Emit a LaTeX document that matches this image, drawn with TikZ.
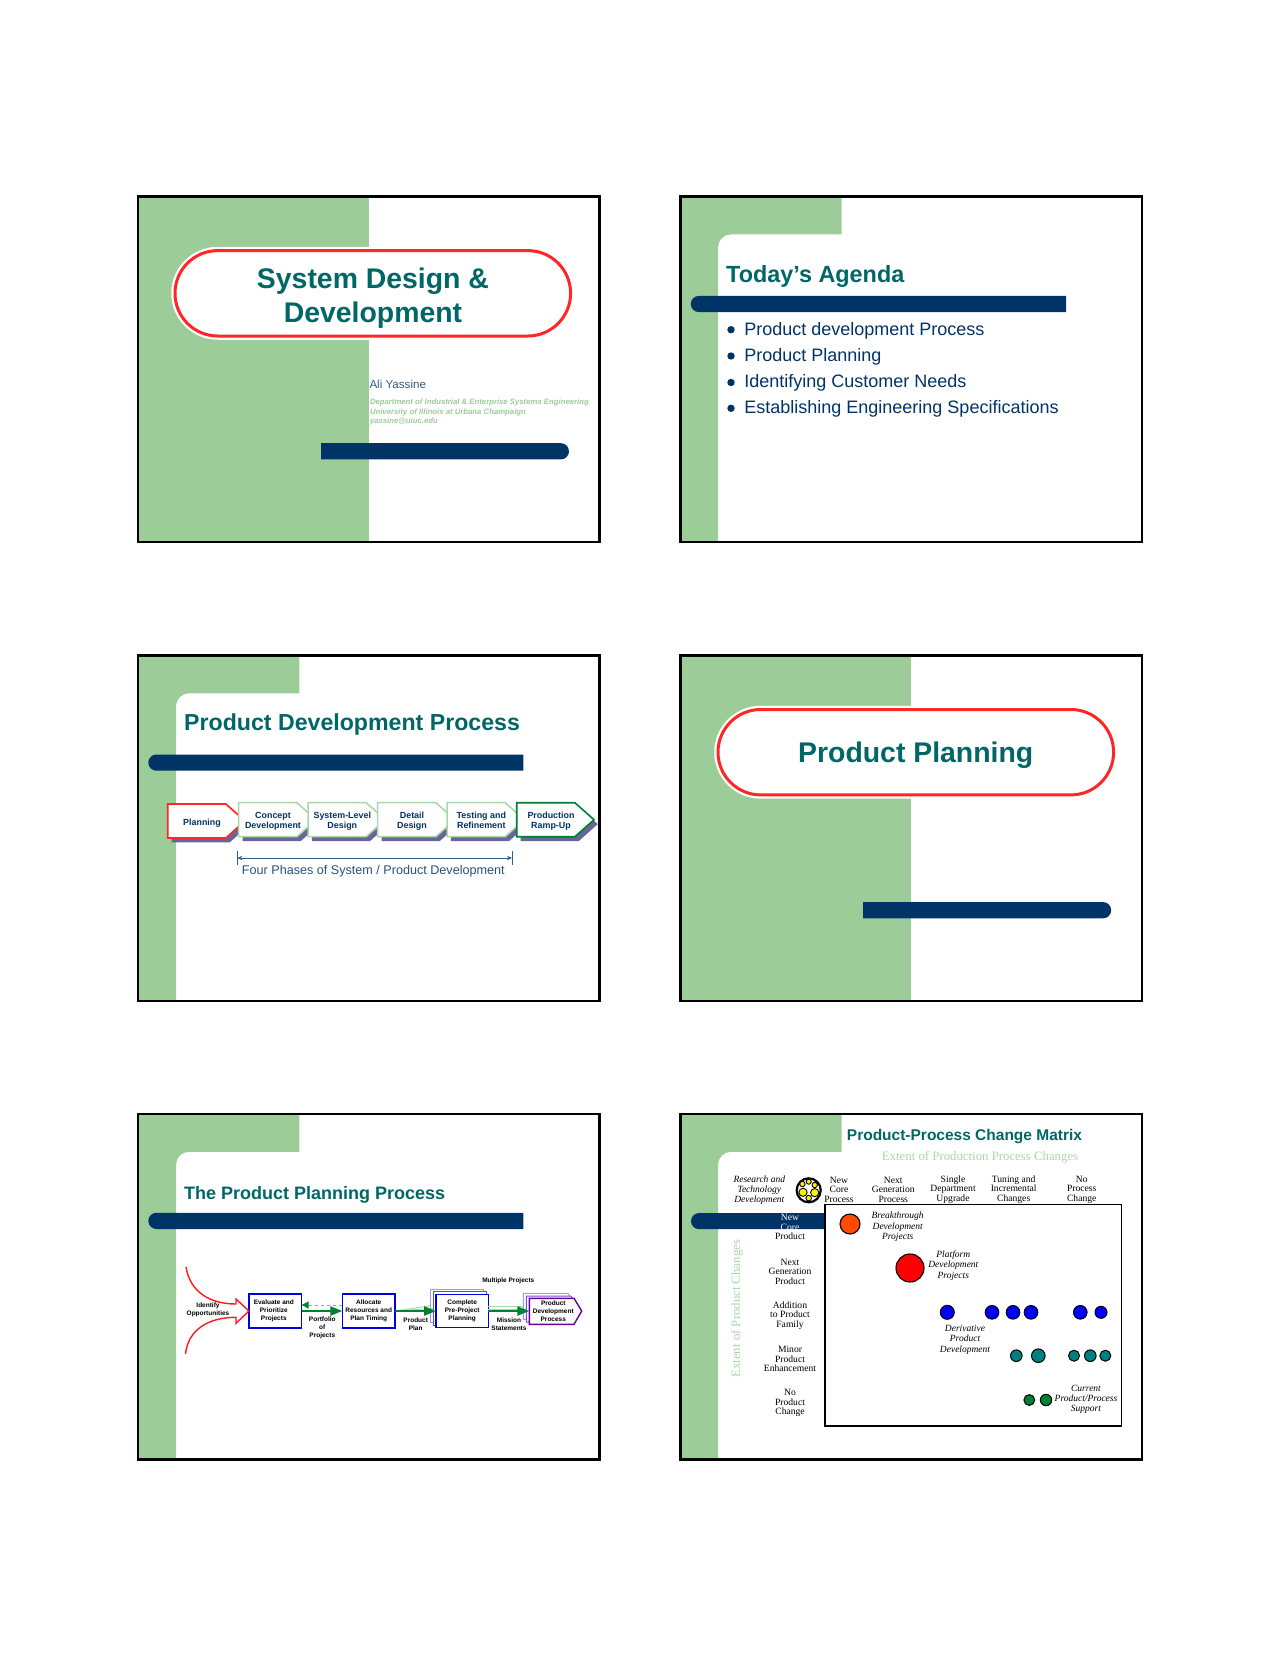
\documentclass[tikz,border=0pt]{standalone}
\usepackage{fontspec}
\setmainfont{Liberation Sans}
\newfontfamily\matrixfont{Liberation Serif}
\usetikzlibrary{arrows.meta,shapes.misc}
\definecolor{panelgreen}{HTML}{9CCC98}
\definecolor{headteal}{HTML}{006666}
\definecolor{navy}{HTML}{003366}
\definecolor{shadowblue}{HTML}{666699}
\definecolor{flowgreen}{HTML}{008033}
\definecolor{palegreen}{HTML}{A8D8A8}
\tikzset{
    slideframe/.style={draw=black,line width=2.5},
    titlepill/.style={rounded rectangle,draw=red!85!white,fill=white,line width=3,minimum width=395.6,minimum height=85.4,outer sep=0,inner sep=0,preaction={draw=white,line width=7.5}},
    navybar/.style={rounded rectangle,fill=navy,minimum height=16.2,outer sep=0,inner sep=0},
    bighead/.style={font=\fontsize{28.4}{34.6}\selectfont\bfseries,text=headteal,align=center,inner sep=0},
    slidehead/.style={font=\fontsize{23.4}{28}\selectfont\bfseries,text=headteal,anchor=base west,inner sep=0},
    agendaitem/.style={font=\fontsize{18}{22}\selectfont,text=navy,anchor=base west,inner sep=0},
    phasetext/.style={font=\fontsize{8.9}{10}\selectfont\bfseries,text=navy,align=center,text depth=0pt,inner sep=0},
    redstage/.style={draw=red!85!white,line width=1.7,fill=white},
    midstage/.style={draw=palegreen,line width=1.5,fill=white},
    endstage/.style={draw=flowgreen,line width=1.6,fill=white},
    flowtext/.style={font=\fontsize{6.5}{8}\selectfont\bfseries,align=center,inner sep=0},
    flowbox/.style={draw=blue!85!black,line width=1.5,fill=white,flowtext,minimum width=52.7,minimum height=34,outer sep=0},
    flowarrow/.style={draw=flowgreen,line width=2.2,-{Triangle[length=12pt,width=9pt,color=flowgreen]}},
    paleline/.style={draw=palegreen,line width=1},
    coltext/.style={font=\matrixfont\fontsize{9.6}{9.7}\selectfont,align=center,inner sep=0},
    notetext/.style={font=\matrixfont\itshape\fontsize{9.5}{10.4}\selectfont,align=center,inner sep=0},
    spot/.style={draw=black,line width=1},
}
\begin{document}
\begin{tikzpicture}[x=1pt,y=-1pt]
    \useasboundingbox (0,0) rectangle (1280,1656);

    % slide 1
    \fill[panelgreen] (138,196.3) rectangle (369,542);
    \node[titlepill] (pillA) at (372.8,293.3) {};
    \node[bighead] (titleA) at (373,298) {System Design \&\\Development};
    \node[font=\fontsize{11.6}{14}\selectfont,text=navy!80!white,anchor=base west,inner sep=0] (author) at (369.3,388) {Ali Yassine};
    \node[font=\fontsize{7.75}{9.4}\selectfont\bfseries\itshape,text=panelgreen,align=left,inner sep=0,anchor=west] (dept) at (369.8,412) {Department of Industrial \& Enterprise Systems Engineering\\University of Illinois at Urbana Champaign\\yassine@uiuc.edu};
    \node[navybar,rounded rectangle left arc=none,minimum width=248] (barA) at (445,451.3) {};
    \draw[slideframe] (138,196.3) rectangle (599.5,542);

    % the L shaped panels
    \foreach \fx/\fy/\tabx in {680/196.3/841.7,138/655.3/299.3,138/1113.8/299.3,680/1113.8/841.7}
        \fill[panelgreen] (\fx,\fy) -- (\tabx,\fy) -- (\tabx,\fy+38) [rounded corners=13] -- (\fx+38,\fy+38) [sharp corners] -- (\fx+38,\fy+345.7) -- (\fx,\fy+345.7) -- cycle;

    % slide 2
    \node[slidehead] (titleB) at (726,282.5) {Today’s Agenda};
    \node[navybar,rounded rectangle right arc=none,minimum width=375.3] (barB) at (878.4,304) {};
    \foreach \iy/\iname/\itext in {335/itemA/Product development Process,361.3/itemB/Product Planning,387.8/itemC/Identifying Customer Needs,413.6/itemD/Establishing Engineering Specifications} {
        \fill[navy] (731,\iy-5.3) circle (3.7);
        \node[agendaitem] (\iname) at (744.2,\iy) {\itext};
    }
    \draw[slideframe] (680.5,196.3) rectangle (1142,542);

    % slide 3
    \node[slidehead,font=\fontsize{23.15}{28}\selectfont\bfseries] (titleC) at (184,730) {Product Development Process};
    \node[navybar,rounded rectangle right arc=none,minimum width=375] (barC) at (335.8,762.6) {};
    \foreach \bx/\bt/\bstyle/\bname/\btext in {167.7/804/redstage/PL/Planning,238.7/802.7/midstage/CD/{Concept\\Development},308/802.7/midstage/SL/{System-Level\\Design},377.7/802.7/midstage/DD/{Detail\\Design},447/802.7/midstage/TR/{Testing and\\Refinement},516.7/802.7/endstage/RU/{Production\\Ramp-Up}} {
        \fill[shadowblue,xshift=3.8pt,yshift=-4.4pt] (\bx,\bt) -- (\bx+58.2,\bt) -- (\bx+77.3,\bt+17) -- (\bx+58.2,\bt+34) -- (\bx,\bt+34) -- cycle;
        \draw[\bstyle] (\bx,\bt) -- (\bx+58.2,\bt) -- (\bx+77.3,\bt+17) -- (\bx+58.2,\bt+34) -- (\bx,\bt+34) -- cycle;
        \node[phasetext] (\bname) at (\bx+34.3,\bt+18) {\btext};
    }
    \coordinate (PhaseL) at (237.3,858);
    \coordinate (PhaseR) at (512,858);
    \begin{scope}[navy!80!white,line width=1]
        \draw[{Stealth[length=5pt,width=4.5pt]}-{Stealth[length=5pt,width=4.5pt]}] (PhaseL) -- (PhaseR);
        \draw ([yshift=7.3pt]PhaseL) -- ([yshift=-7.3pt]PhaseL);
        \draw ([yshift=7.3pt]PhaseR) -- ([yshift=-7.3pt]PhaseR);
    \end{scope}
    \node[font=\fontsize{12.6}{15}\selectfont,text=navy!85!white,anchor=base,inner sep=0] (phases) at (373.3,874) {Four Phases of System / Product Development};
    \draw[slideframe] (138,655.3) rectangle (599.5,1001);

    % slide 4
    \fill[panelgreen] (680.5,655.3) rectangle (911.3,1001);
    \node[titlepill] (pillB) at (915.8,752.2) {};
    \node[bighead] (titleD) at (915.7,755) {Product Planning};
    \node[navybar,rounded rectangle left arc=none,minimum width=248] (barD) at (987.2,910.2) {};
    \draw[slideframe] (680.5,655.3) rectangle (1142,1001);

    % slide 5
    \node[slidehead,font=\fontsize{18}{22}\selectfont\bfseries] (titleE) at (184,1199.5) {The Product Planning Process};
    \node[navybar,rounded rectangle right arc=none,minimum width=375] (barE) at (335.8,1220.9) {};
    \node[flowbox] (EP) at (275.3,1311) {\hspace*{-3pt}Evaluate and\\\hspace*{-3pt}Prioritize\\\hspace*{-3pt}Projects};
    \node[flowbox] (AR) at (368.7,1311) {Allocate\\Resources and\\Plan Timing};
    \node[draw=blue!40!white,line width=1,fill=white,minimum width=53,minimum height=33.5,outer sep=0] (CB) at (456.5,1305.8) {};
    \node[draw=blue!70!white,line width=1,fill=white,minimum width=53,minimum height=33.5,outer sep=0] (CM) at (459.5,1308.4) {};
    \node[flowbox,minimum width=52.3,minimum height=33.4] (CP) at (462.2,1311) {Complete\\Pre-Project\\Planning};
    \foreach \sx/\st/\scol in {523.3/1293.3/blue!40!white,526.3/1296/blue!50!violet!70!white}
        \draw[draw=\scol,line width=1,fill=white] (\sx,\st) -- (\sx+44.7,\st) -- (\sx+52.4,\st+13) -- (\sx+44.7,\st+26) -- (\sx,\st+26) -- cycle;
    \draw[draw=violet!80!blue,line width=1.4,fill=white] (529.3,1298.3) -- (574,1298.3) -- (581.7,1311) -- (574,1324.3) -- (529.3,1324.3) -- cycle;
    \node[flowtext,minimum width=48,outer sep=0] (PD) at (553.3,1311) {Product\\Development\\Process};
    \coordinate (PB) at (523.3,1306.3);
    \coordinate (PM) at (526.3,1309);
    \draw[paleline] (AR.east) -- (CB.west);
    \draw[paleline] (AR.east) -- (CM.west);
    \draw[paleline] (CP.east |- PB) -- (PB);
    \draw[paleline] (CP.east |- PM) -- (PM);
    \draw[flowarrow] (EP.east) -- (AR.west);
    \draw[flowarrow] (AR.east) -- (CP.west);
    \draw[flowarrow] (CP.east) -- (PD.west);
    \draw[draw=palegreen!70!flowgreen,line width=.9,dashed,-{Triangle[length=7pt,width=7pt,color=flowgreen]}] ([yshift=6pt]AR.west) -- ([yshift=6pt]EP.east);
    \coordinate (OpenA) at (186,1267);
    \coordinate (OpenB) at (185.5,1354);
    \draw[draw=red!90!white,line width=1.4,line join=miter] (OpenA) .. controls (190,1292) and (210,1304) .. (236,1304) -- (236,1299) -- (EP.west) -- (236,1323.3) -- (236,1317.3) .. controls (208,1317.3) and (188,1330) .. (OpenB);
    \node[flowtext] (IO) at (208,1310.3) {Identify\\Opportunities};
    \node[flowtext] (PF) at (322.3,1327.8) {Portfolio\\of\\Projects};
    \node[flowtext] (PP) at (415.7,1323.8) {Product\\Plan};
    \node[flowtext] (MS) at (509,1324) {Mission\\Statements};
    \node[flowtext] (MP) at (508.3,1281.3) {Multiple Projects};
    \draw[slideframe] (138,1113.8) rectangle (599.5,1459.5);

    % slide 6
    \node[slidehead,font=\fontsize{15.5}{19}\selectfont\bfseries] (titleF) at (846.7,1140) {Product-Process Change Matrix};
    \node[font=\matrixfont\fontsize{12.8}{15}\selectfont,text=palegreen,anchor=base west,inner sep=0] (extentX) at (881.7,1160) {Extent of Production Process Changes};
    \node[navybar,rounded rectangle right arc=none,minimum width=375] (barF) at (878.5,1221.1) {};
    \node[draw=black,line width=1.5,fill=white,minimum width=296.7,minimum height=221.7,outer sep=0] (grid) at (973.3,1315.2) {};
    \node[font=\matrixfont\fontsize{12.8}{15}\selectfont,text=palegreen,rotate=90,anchor=base,inner sep=0] (extentY) at (740,1308.7) {Extent of Product Changes};
    \node[notetext] (RT) at (759.3,1190.2) {Research and\\Technology\\Development};
    \foreach \cx/\cname/\ctext in {839/hA/{New\\Core\\Process},893.3/hB/{Next\\Generation\\Process},953/hC/{Single\\Department\\Upgrade},1013.7/hD/{Tuning and\\Incremental\\Changes},1081.7/hE/{No\\Process\\Change}}
        \node[coltext] (\cname) at (\cx,1189.6) {\ctext};
    \node[coltext,text=white] (vA) at (790,1222.3) {New\\Core};
    \node[coltext] (vAb) at (790,1236) {Product};
    \foreach \ry/\rname/\rtext in {1271.6/vB/{Next\\Generation\\Product},1315.6/vC/{Addition\\to Product\\Family},1358.9/vD/{Minor\\Product\\Enhancement},1403/vE/{No\\Product\\Change}}
        \node[coltext] (\rname) at (790,\ry) {\rtext};
    \filldraw[spot,fill=white,line width=2.2] (808.7,1190.3) circle (12);
    \foreach \ix/\iy/\ir in {-6.3/-6.3/2.7,0/-8.6/2.5,6/-5.3/2.7,-5.7/2/4.1,6/2.3/4.1,0/7.8/2.8}
        \filldraw[spot,fill=yellow,line width=.9] (808.7+\ix,1190.3+\iy) circle (\ir);
    \filldraw[spot,fill=orange!60!red,line width=1.1] (850,1224) circle (10);
    \filldraw[spot,fill=red,line width=1.1] (910,1268) circle (14);
    \foreach \dx/\dr in {947.3/7,992/6.8,1013/6.8,1031/6.8,1080.3/6.8,1101/6}
        \filldraw[spot,fill=blue] (\dx,1312.3) circle (\dr);
    \foreach \dx/\dr in {1016.3/5.8,1038.3/6.8,1074/5.5,1090.3/5.8,1105.3/5.5}
        \filldraw[spot,fill=teal] (\dx,1355.7) circle (\dr);
    \foreach \dx/\dr in {1029.3/5.4,1046/5.7}
        \filldraw[spot,fill=flowgreen] (\dx,1400) circle (\dr);
    \node[notetext] (BD) at (897.7,1227) {Breakthrough\\Development\\Projects};
    \node[notetext] (PL2) at (953.3,1265.5) {Platform\\Development\\Projects};
    \node[notetext] (DP) at (965,1339.5) {Derivative\\Product\\Development};
    \node[notetext] (CS) at (1086,1399.3) {Current\\Product/Process\\Support};
    \draw[slideframe] (680.5,1113.8) rectangle (1142,1459.5);
\end{tikzpicture}
\end{document}
